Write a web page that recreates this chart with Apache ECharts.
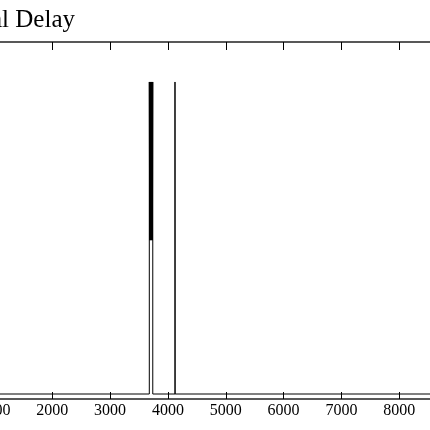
<!DOCTYPE html>
<html>
<head>
<meta charset="utf-8">
<script src="https://cdn.jsdelivr.net/npm/echarts@6/dist/echarts.min.js"></script>
<style>
html,body{margin:0;padding:0;background:#fff;overflow:hidden;}
#wrap{position:relative;width:430px;height:430px;overflow:hidden;}
#chart{position:absolute;left:-100px;top:0;width:600px;height:430px;}
</style>
</head>
<body>
<div id="wrap"><div id="chart"></div></div>
<script>
// Sample index (x) and delay (y)
const sampleIndex = [0, 3678, 3678, 3684, 3690, 3696, 3702, 3708, 3714, 3720, 3726, 3732, 3738, 3738, 4122, 4122, 4124, 9000];
const delayValues = [1.4, 1.4, 88.8, 44.5, 88.8, 44.5, 88.8, 44.5, 88.8, 44.5, 88.8, 44.5, 88.8, 1.4, 1.4, 88.8, 1.4, 1.4];
const xTickValues = [0, 1000, 2000, 3000, 4000, 5000, 6000, 7000, 8000, 9000];
const titleText = 'Signal Delay';

const data = sampleIndex.map((x, i) => [x, delayValues[i]]);
const font = '"Liberation Serif", "Times New Roman", serif';

const chart = echarts.init(document.getElementById('chart'), null, {renderer: 'canvas'});
chart.setOption({
  animation: false,
  backgroundColor: '#fff',
  title: {
    text: titleText,
    right: 425,
    top: 8,
    padding: 0,
    textStyle: {fontFamily: font, fontSize: 25, fontWeight: 'normal', color: '#000'}
  },
  grid: {left: 36.6, right: 42.9, top: 42, bottom: 31, containLabel: false},
  xAxis: [{
    type: 'value',
    position: 'bottom',
    min: xTickValues[0],
    max: xTickValues[xTickValues.length - 1],
    interval: 1000,
    splitLine: {show: false},
    axisLine: {show: true, onZero: false, lineStyle: {color: '#222', width: 1.5}},
    axisTick: {show: true, inside: true, length: 7, lineStyle: {color: '#000', width: 1}},
    axisLabel: {show: true, margin: 4, fontFamily: font, fontSize: 16, color: '#000',
      formatter: function (v) { return String(v); }}
  }, {
    type: 'value',
    position: 'top',
    min: xTickValues[0],
    max: xTickValues[xTickValues.length - 1],
    interval: 1000,
    splitLine: {show: false},
    axisLine: {show: true, onZero: false, lineStyle: {color: '#222', width: 1.5}},
    axisTick: {show: true, inside: true, length: 8, lineStyle: {color: '#000', width: 1}},
    axisLabel: {show: false}
  }],
  yAxis: {
    type: 'value',
    min: 0,
    max: 100,
    show: false,
    splitLine: {show: false}
  },
  series: [{
    type: 'line',
    data: data,
    showSymbol: false,
    symbol: 'none',
    lineStyle: {color: '#000', width: 1},
    clip: true
  }]
});
</script>
</body>
</html>
